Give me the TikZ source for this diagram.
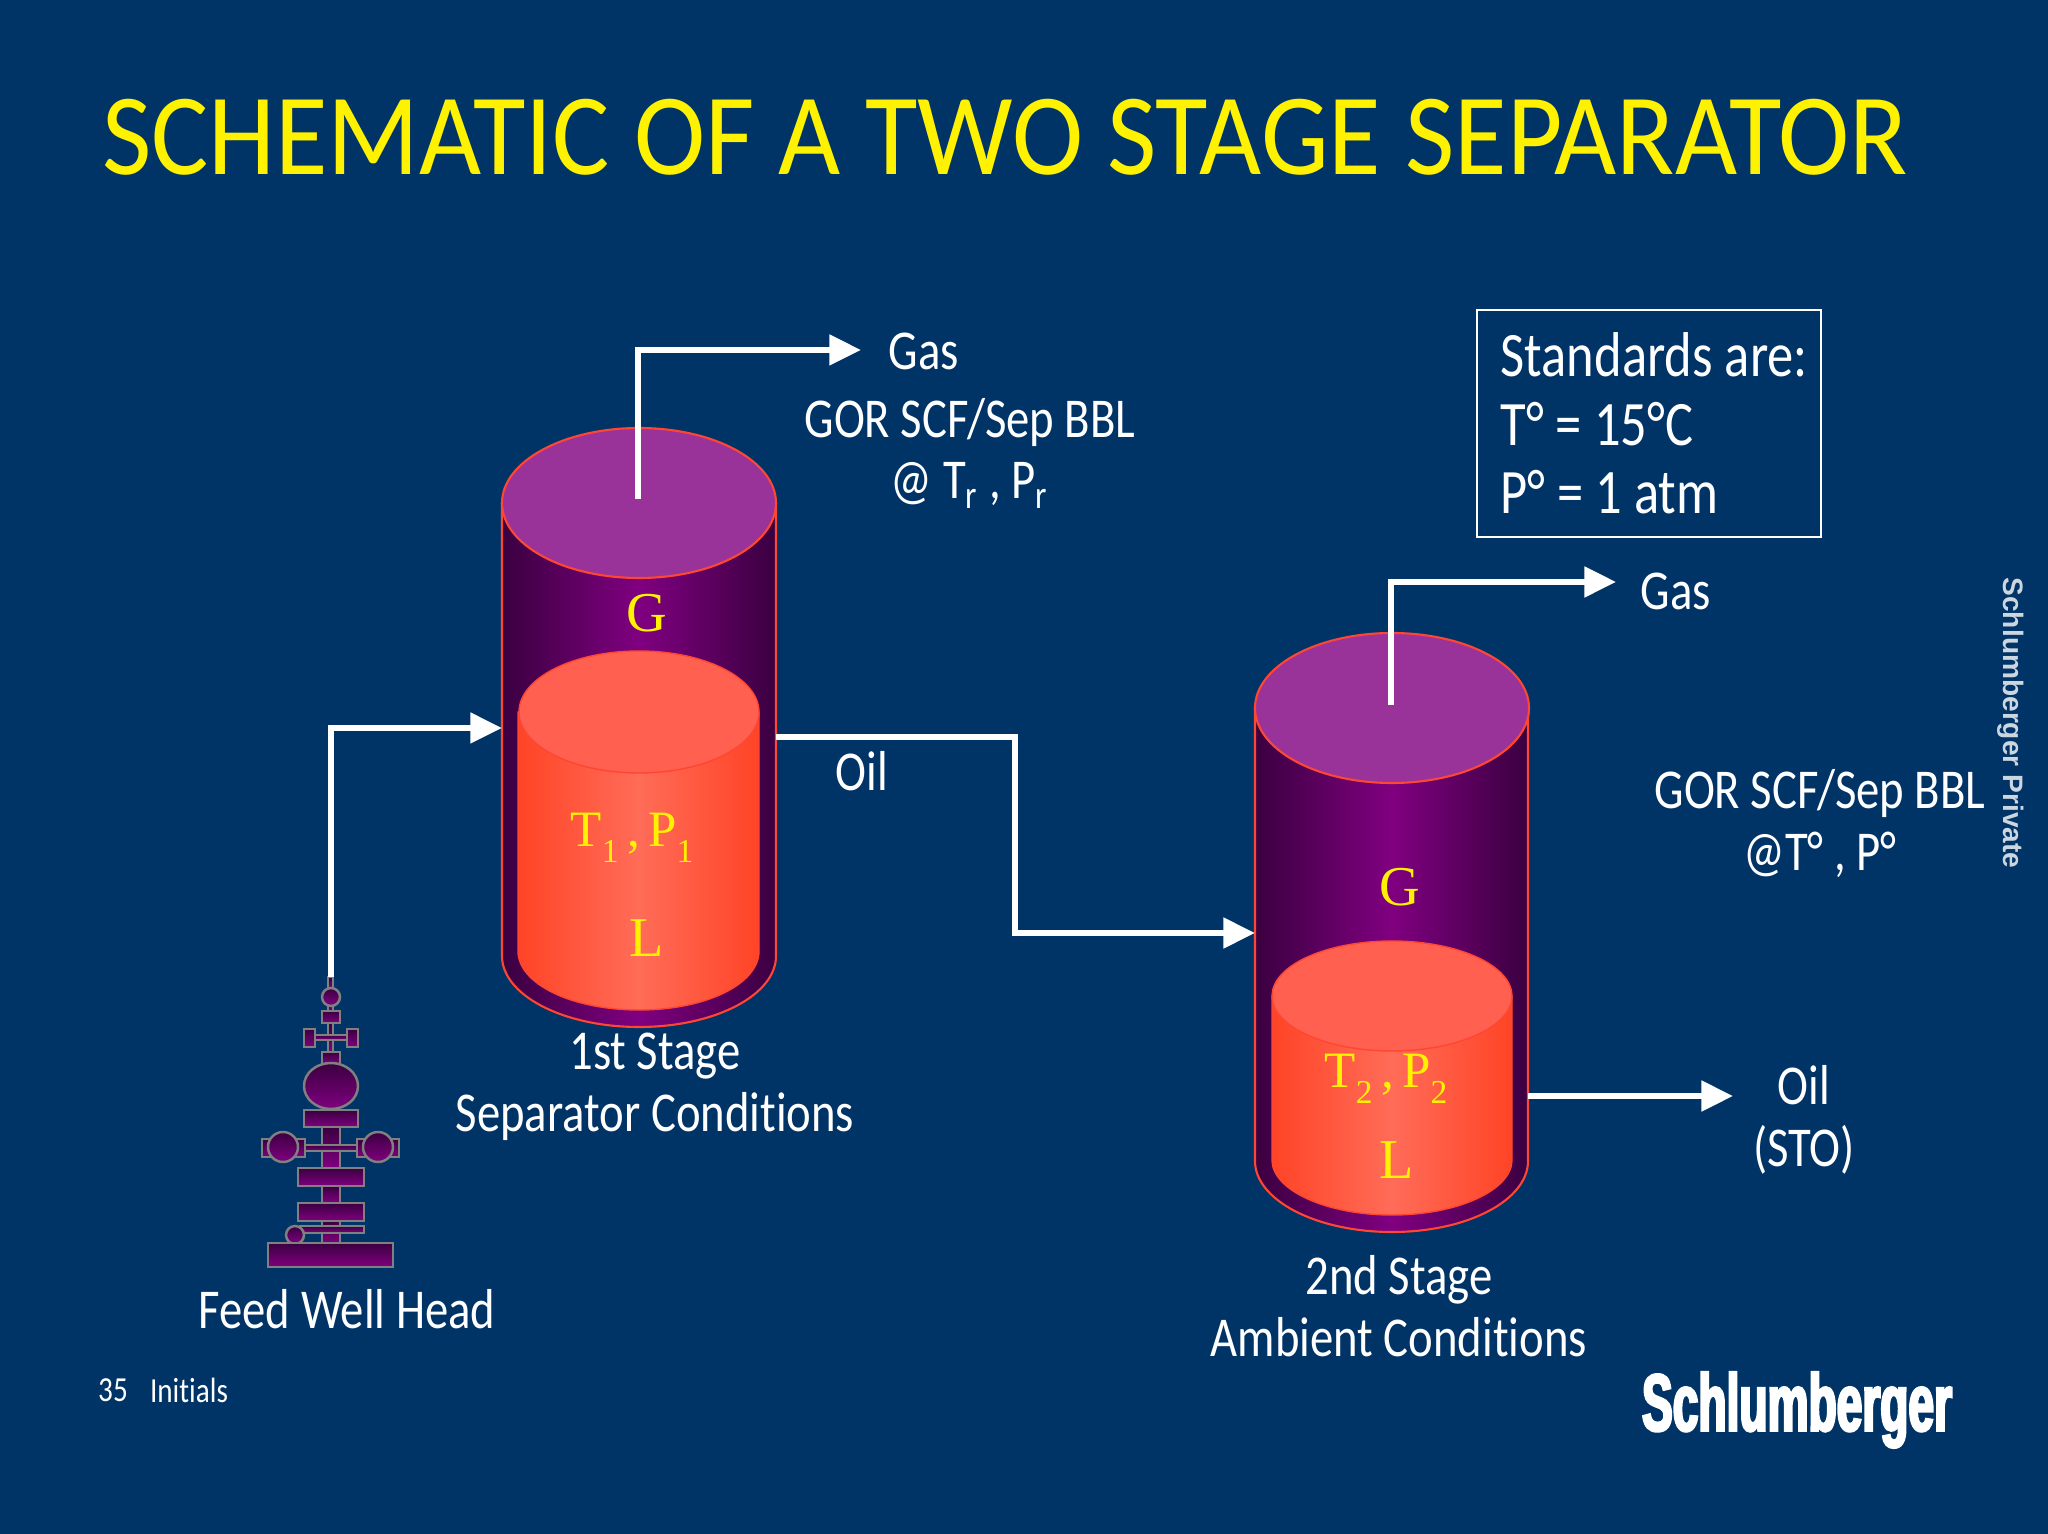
\documentclass[tikz,border=0pt]{standalone}
\usepackage{fontspec}
\setmainfont[FakeStretch=0.83,Ligatures=NoCommon]{Carlito}
\newfontfamily\titlename[FakeStretch=0.925,Ligatures=NoCommon]{Carlito}
\newfontfamily\serifname{Liberation Serif}
\newfontfamily\boldname[FakeBold=3,FakeStretch=0.57]{Liberation Sans Bold}
\newfontfamily\markname{Liberation Sans Bold}
\usetikzlibrary{arrows.meta}

\definecolor{slidebg}{RGB}{0,51,102}
\definecolor{walldark}{RGB}{58,0,64}
\definecolor{wallmid}{RGB}{128,0,128}
\definecolor{gastop}{RGB}{153,51,153}
\definecolor{rim}{RGB}{255,70,50}
\definecolor{oilside}{RGB}{255,68,38}
\definecolor{oilmid}{RGB}{255,108,88}
\definecolor{oiltop}{RGB}{255,96,80}

\newcommand{\lowidx}[1]{\raisebox{-0.32em}{\fontsize{9.5}{10}\selectfont #1}}

\tikzset{
  lbl/.style={text=white, align=center, font=\fontsize{16}{17.6}\selectfont, inner sep=0pt},
  stdlbl/.style={text=white, align=left, font=\fontsize{18}{19.5}\selectfont, inner sep=0pt},
  tanklbl/.style={text=yellow, font=\serifname\fontsize{16}{18}\selectfont, inner sep=0pt},
  condlbl/.style={text=yellow, font=\serifname\fontsize{14.5}{18}\selectfont, inner sep=0pt},
  flow/.style={draw=white, line width=1.5pt, -{Triangle[length=9pt,width=8.5pt]}},
  wall/.style={draw=rim, line width=0.6pt, left color=walldark, right color=walldark, middle color=wallmid},
  gascap/.style={draw=rim, line width=0.6pt, fill=gastop},
  oilbody/.style={draw=rim, line width=0.4pt, left color=oilside, right color=oilside, middle color=oilmid},
  oilcap/.style={draw=rim, line width=0.4pt, fill=oiltop},
  wellpart/.style={draw=gray, line width=0.7pt, top color=walldark, bottom color=wallmid}
}

\begin{document}
\begin{tikzpicture}[x=0.01cm,y=-0.01cm]

  % Slide
  \fill[slidebg] (0,0) rectangle (2048,1534);
  \useasboundingbox (0,0) rectangle (2048,1534);
  \node[text=yellow, inner sep=0pt, font=\titlename\fontsize{33}{36}\selectfont] (title) at (1005,137) {SCHEMATIC OF A TWO STAGE SEPARATOR};

  % First separator
  \draw[wall] (502,503) -- (502,956) .. controls (502,995) and (563,1027) .. (639,1027) .. controls (715,1027) and (776,995) .. (776,956) -- (776,503) -- cycle;
  \draw[gascap] (639,503) ellipse[x radius=137, y radius=75];
  \draw[oilbody] (518,712) -- (518,951) .. controls (518,984) and (572,1010) .. (639,1010) .. controls (706,1010) and (759,984) .. (759,951) -- (759,712) -- cycle;
  \draw[oilcap] (639,712) ellipse[x radius=120, y radius=61];
  \node[tanklbl] (gasone) at (647,613) {G};
  \node[condlbl] (condone) at (632,838) {T\lowidx{1}\,,\,P\lowidx{1}};
  \node[tanklbl] (oilone) at (647,938) {L};

  % Second separator
  \draw[wall] (1255,708) -- (1255,1161) .. controls (1255,1200) and (1316,1232) .. (1392,1232) .. controls (1468,1232) and (1528,1200) .. (1528,1161) -- (1528,708) -- cycle;
  \draw[gascap] (1392,708) ellipse[x radius=137, y radius=75];
  \draw[oilbody] (1272,996) -- (1272,1160) .. controls (1272,1190) and (1326,1215) .. (1392,1215) .. controls (1458,1215) and (1512,1190) .. (1512,1160) -- (1512,996) -- cycle;
  \draw[oilcap] (1392,996) ellipse[x radius=120, y radius=55];
  \node[tanklbl] (gastwo) at (1400,887) {G};
  \node[condlbl] (condtwo) at (1386,1079) {T\lowidx{2}\,,\,P\lowidx{2}};
  \node[tanklbl] (oiltwo) at (1397,1160) {L};

  % Well head
  \draw[wellpart] (328,977) rectangle (333,988);
  \draw[wellpart] (328,1005) rectangle (333,1011);
  \draw[wellpart] (331,997) circle[radius=9];
  \draw[wellpart] (322,1011) rectangle (340,1023);
  \draw[wellpart] (328,1023) rectangle (333,1052);
  \draw[wellpart] (315,1035) rectangle (347,1040);
  \draw[wellpart] (304,1029) rectangle (315,1047);
  \draw[wellpart] (347,1029) rectangle (358,1047);
  \draw[wellpart] (322,1052) rectangle (340,1065);
  \draw[wellpart] (331,1086) ellipse[x radius=27, y radius=23];
  \draw[wellpart] (322,1127) rectangle (340,1168);
  \draw[wellpart] (304,1110) rectangle (358,1127);
  \draw[wellpart] (262,1139) rectangle (305,1157);
  \draw[wellpart] (357,1139) rectangle (399,1157);
  \draw[wellpart] (305,1145) rectangle (357,1151);
  \draw[wellpart] (283,1147) circle[radius=15];
  \draw[wellpart] (378,1147) circle[radius=15];
  \draw[wellpart] (322,1186) rectangle (340,1203);
  \draw[wellpart] (298,1168) rectangle (364,1186);
  \draw[wellpart] (322,1221) rectangle (340,1243);
  \draw[wellpart] (298,1203) rectangle (364,1221);
  \draw[wellpart] (300,1226) rectangle (364,1233);
  \draw[wellpart] (295,1235) circle[radius=9];
  \draw[wellpart] (268,1243) rectangle (393,1267);

  % Connector ends
  \coordinate (feedout) at (331,977);
  \coordinate (feedin) at (502,728);
  \coordinate (gasoneout) at (638,499);
  \coordinate (gasoneend) at (861,350);
  \coordinate (oiloneout) at (776,737);
  \coordinate (oilonein) at (1255,933);
  \coordinate (gastwoout) at (1391,705);
  \coordinate (gastwoend) at (1616,582);
  \coordinate (oiltwoout) at (1528,1096);
  \coordinate (oiltwoend) at (1733,1096);

  % Connectors
  \draw[flow] (feedout) |- (feedin);
  \draw[flow] (gasoneout) |- (gasoneend);
  \draw[flow] (oiloneout) -- (1015,737) -- (1015,933) -- (oilonein);
  \draw[flow] (gastwoout) |- (gastwoend);
  \draw[flow] (oiltwoout) -- (oiltwoend);

  % Labels
  \node[lbl, anchor=west] (gasa) at (888,351) {Gas};
  \node[lbl] (gora) at (970,453) {GOR SCF/Sep BBL\\@ T\textsubscript{r} , P\textsubscript{r}};
  \node[lbl] (oillbl) at (862,771) {Oil};
  \node[lbl] (stagea) at (655,1087) {1st Stage\\Separator Conditions};
  \node[lbl] (wellname) at (347,1309) {Feed Well Head};
  \node[lbl, anchor=west] (gasb) at (1640,591) {Gas};
  \node[lbl] (gorb) at (1820,824) {GOR SCF/Sep BBL\\@T° , P°};
  \node[lbl] (oilb) at (1804,1120) {Oil\\(STO)};
  \node[lbl] (stageb) at (1399,1306) {2nd Stage\\Ambient Conditions};

  % Standards box
  \draw[white, line width=0.6pt] (1477,310) rectangle (1821,537);
  \node[stdlbl, anchor=north west] (std) at (1500,332) {Standards are:\\T° = 15°C\\P° = 1 atm};

  % Footer
  \node[lbl, font=\fontsize{10}{12}\selectfont] (pageno) at (113,1390) {35};
  \node[lbl, font=\fontsize{10}{12}\selectfont] (initials) at (189,1390) {Initials};
  \node[text=white, inner sep=0pt, font=\boldname\fontsize{23}{25}\selectfont] (logo) at (1797,1410) {Schlumberger};
  \node[text=white!80!slidebg, inner sep=0pt, rotate=-90, font=\markname\fontsize{8}{10}\selectfont] (mark) at (2011,723) {Schlumberger Private};

\end{tikzpicture}
\end{document}
